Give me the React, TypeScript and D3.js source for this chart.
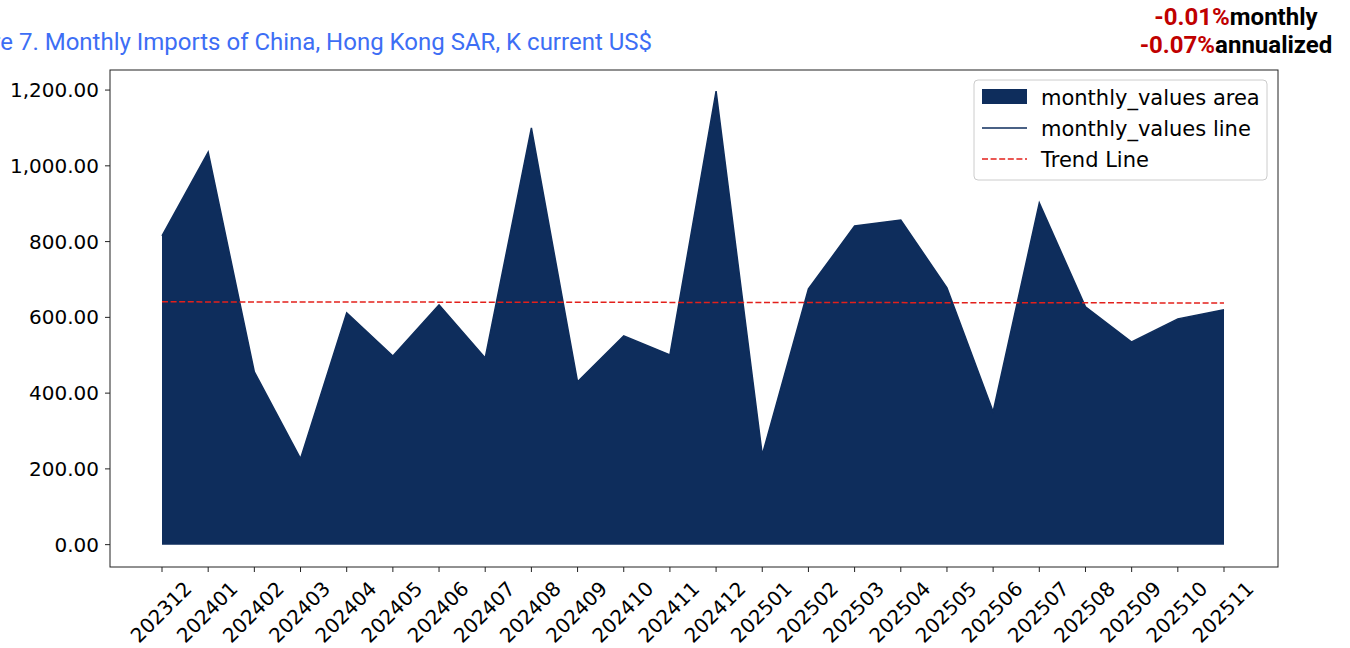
import React from 'react';
import * as d3 from 'd3';

const width = 1350;
const height = 648;
const margin = { top: 70, right: 72, bottom: 81, left: 110 };

const months = [
  '202312', '202401', '202402', '202403', '202404', '202405', '202406', '202407',
  '202408', '202409', '202410', '202411', '202412', '202501', '202502', '202503',
  '202504', '202505', '202506', '202507', '202508', '202509', '202510', '202511',
];
const monthlyValues = [
  815, 1036, 456, 227, 612, 498, 633, 493,
  1100, 430, 551, 501, 1197, 237, 675, 841,
  857, 678, 351, 902, 628, 535, 596, 620,
];
const trendValues = [641, 638];
const yTicks = [0, 200, 400, 600, 800, 1000, 1200];
const legendLabels = ['monthly_values area', 'monthly_values line', 'Trend Line'];

const navy = '#0e2d5c';
const tickFont = 'DejaVu Sans, sans-serif';

const App = () => {
  const innerW = width - margin.left - margin.right;
  const innerH = height - margin.top - margin.bottom;

  const x = d3.scalePoint().domain(months).range([52, innerW - 54]);
  const y = d3.scaleLinear().domain([-59, 1253]).range([innerH, 0]);

  const data = months.map((m, i) => ({ m, v: monthlyValues[i] }));
  const areaPath = d3.area<any>().x(d => x(d.m)!).y0(y(0)).y1(d => y(d.v))(data);
  const linePath = d3.line<any>().x(d => x(d.m)!).y(d => y(d.v))(data);
  const fmt = d3.format(',.2f');

  const lx = 864;
  const ly = 10;

  return (
    <svg width={width} height={height} style={{ position: 'absolute', left: 0, top: 0 }}>
      <rect width={width} height={height} fill="#fff" />
      {/* title is wider than the left margin, so its start runs off the page like the reference */}
      <text x={652} y={50} textAnchor="end" fontFamily="Roboto, sans-serif" fontSize={24} fill="#3d6ef5">
        Figure 7. Monthly Imports of China, Hong Kong SAR, K current US$
      </text>
      <g fontFamily="Roboto, sans-serif" fontWeight="bold" fontSize={24} textAnchor="middle">
        <text x={1236} y={25}>
          <tspan fill="#c00000">-0.01%</tspan><tspan fill="#000">monthly</tspan>
        </text>
        <text x={1236} y={53}>
          <tspan fill="#c00000">-0.07%</tspan><tspan fill="#000">annualized</tspan>
        </text>
      </g>
      <g transform={`translate(${margin.left},${margin.top})`}>
        <path d={areaPath!} fill={navy} />
        <path d={linePath!} fill="none" stroke={navy} strokeWidth={1.5} />
        <line
          x1={x(months[0])} x2={x(months[months.length - 1])}
          y1={y(trendValues[0])} y2={y(trendValues[1])}
          stroke="#e3201b" strokeWidth={1.5} strokeDasharray="6,2.6"
        />
        <rect x={0} y={0} width={innerW} height={innerH} fill="none" stroke="#222" strokeWidth={1} />
        {yTicks.map(t => (
          <g key={t} transform={`translate(0,${y(t)})`}>
            <line x1={-5} x2={0} stroke="#222" />
            <text x={-11} dy="0.35em" textAnchor="end" fontFamily={tickFont} fontSize={20} fill="#000">
              {fmt(t)}
            </text>
          </g>
        ))}
        {months.map(m => (
          <g key={m} transform={`translate(${x(m)},${innerH})`}>
            <line y1={0} y2={5} stroke="#222" />
            <text
              transform="translate(-1,45) rotate(-45)"
              textAnchor="middle" dy="0.35em" fontFamily={tickFont} fontSize={20} fill="#000"
            >
              {m}
            </text>
          </g>
        ))}
        <g transform={`translate(${lx},${ly})`} fontFamily={tickFont} fontSize={21}>
          <rect x={0} y={0} width={293} height={100} rx={4} fill="#fff" fillOpacity={0.8} stroke="#ccc" />
          <rect x={8} y={9} width={45} height={15} fill={navy} />
          <line x1={8} x2={53} y1={48} y2={48} stroke={navy} strokeWidth={1.5} />
          <line x1={8} x2={53} y1={79} y2={79} stroke="#e3201b" strokeWidth={1.5} strokeDasharray="6,2.6" />
          {legendLabels.map((l, i) => (
            <text key={l} x={67} y={25 + i * 31} fill="#000">{l}</text>
          ))}
        </g>
      </g>
    </svg>
  );
};

export default App;
